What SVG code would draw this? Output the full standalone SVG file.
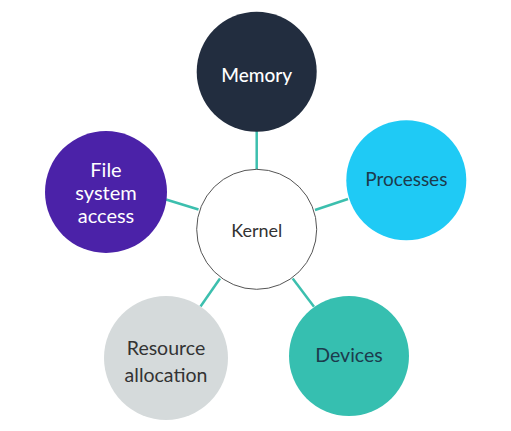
<svg xmlns="http://www.w3.org/2000/svg" width="511" height="431" viewBox="0 0 511 431">
<style>
.lbl{font-family:Lato,"Open Sans","Liberation Sans",sans-serif;font-size:19px;text-anchor:middle}
.con line{stroke:#3cbfae;stroke-width:2.5}
</style>
<rect width="511" height="431" fill="#fff"/>
<g class="con">
<line x1="256.7" y1="131" x2="256.7" y2="170"/>
<line x1="315" y1="210" x2="348" y2="199"/>
<line x1="166" y1="199.5" x2="198.5" y2="209.5"/>
<line x1="220" y1="278.5" x2="200.5" y2="306.5"/>
<line x1="292.7" y1="278.5" x2="314" y2="306.7"/>
</g>
<g id="memory"><circle cx="256.7" cy="71.7" r="60" fill="#222d3f"/><text class="lbl" x="256.7" y="81.7" fill="#fff" font-weight="500">Memory</text></g>
<g id="processes"><circle cx="406.3" cy="180.3" r="60" fill="#1fcaf5"/><text class="lbl" x="406.3" y="186" fill="#1c3b4d">Processes</text></g>
<g id="devices"><circle cx="349" cy="356" r="60" fill="#36bfb0"/><text class="lbl" x="349" y="361.7" fill="#1c3b4d" style="font-size:19.5px">Devices</text></g>
<g id="resource"><circle cx="166" cy="358" r="62" fill="#d5dadb"/><text class="lbl" x="166" y="355" fill="#333" style="font-size:19.5px">Resource</text><text class="lbl" x="166" y="381.7" fill="#333" style="font-size:19.5px">allocation</text></g>
<g id="file"><circle cx="106" cy="192" r="61" fill="#4b22a8"/><text class="lbl" x="106" y="176.7" fill="#fff" style="font-size:20px">File</text><text class="lbl" x="106" y="200" fill="#fff" style="font-size:20px">system</text><text class="lbl" x="106" y="223" fill="#fff" style="font-size:20px">access</text></g>
<g id="kernel"><circle cx="256.7" cy="229.3" r="60" fill="#fff" stroke="#555" stroke-width="1"/><text class="lbl" x="256.7" y="236.7" fill="#333" style="font-size:18px">Kernel</text></g>
</svg>
